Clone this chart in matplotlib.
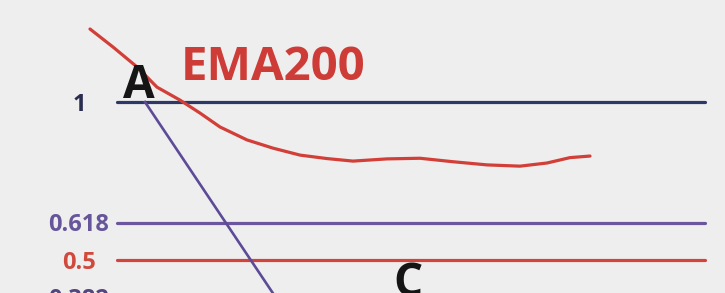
import matplotlib
matplotlib.use('Agg')
import matplotlib.pyplot as plt

# Fibonacci retracement levels drawn as horizontal lines
levels = [1.0, 0.618, 0.5, 0.382]
level_labels = ['1', '0.618', '0.5', '0.382']
level_colors = ['#2d3868', '#6b559e', '#d2433b', '#5b4a8c']
label_colors = ['#2a2d50', '#66559a', '#d0493d', '#55457f']

# EMA200 curve (x in chart position units, y in level units)
ema_x = [90, 113, 137, 157, 180, 200, 220, 247, 273, 300, 327, 353,
         387, 420, 453, 487, 520, 547, 570, 590]
ema_y = [1.231, 1.174, 1.111, 1.047, 1.006, 0.965, 0.921, 0.880, 0.854,
         0.832, 0.821, 0.813, 0.820, 0.822, 0.811, 0.801, 0.797, 0.807,
         0.824, 0.829]

# A -> C leg
leg_x = [145, 293]
leg_y = [1.0, 0.30]

line_start, line_end = 117, 705

plt.rcParams['font.family'] = ['Open Sans', 'DejaVu Sans']

fig = plt.figure(figsize=(7.25, 2.93), dpi=100)
fig.patch.set_facecolor('#eeeeee')
ax = fig.add_axes([0, 0, 1, 1])
ax.set_facecolor('#eeeeee')
ax.set_xlim(0, 725)
ax.set_ylim(0.3956, 1.3228)
ax.axis('off')

for lv, lab, c, lc in zip(levels, level_labels, level_colors, label_colors):
    ax.plot([line_start, line_end], [lv, lv], color=c, lw=2.3,
            solid_capstyle='round')
    ax.text(79, lv - 0.027, lab, color=lc, fontsize=17, fontweight='bold',
            ha='center', va='baseline')

ax.plot(leg_x, leg_y, color='#5e4b98', lw=1.9)
ax.plot(ema_x, ema_y, color='#d23f38', lw=2.3, solid_capstyle='round',
        solid_joinstyle='round')

ax.text(139, 1.013, 'A', color='#151515', fontsize=33, fontweight='bold',
        ha='center', va='baseline')
ax.text(181, 1.0696, 'EMA200', color='#cd3c36', fontsize=34,
        fontweight='bold', ha='left', va='baseline')
ax.text(408, 0.386, 'C', color='#151515', fontsize=33, fontweight='bold',
        ha='center', va='baseline')

fig.savefig('out.png', dpi=100, facecolor=fig.get_facecolor())
